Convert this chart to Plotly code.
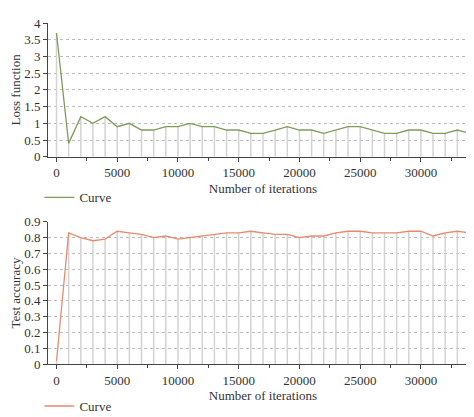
import plotly.graph_objects as go

iterations = [i * 1000 for i in range(35)]
loss = [3.7, 0.4, 1.2, 1.0, 1.2, 0.9, 1.0, 0.8, 0.8, 0.9, 0.9, 1.0, 0.9, 0.9, 0.8, 0.8, 0.7, 0.7,
        0.8, 0.9, 0.8, 0.8, 0.7, 0.8, 0.9, 0.9, 0.8, 0.7, 0.7, 0.8, 0.8, 0.7, 0.7, 0.8, 0.7]
accuracy = [0.02, 0.83, 0.80, 0.78, 0.79, 0.84, 0.83, 0.82, 0.80, 0.81, 0.79, 0.80, 0.81, 0.82,
            0.83, 0.83, 0.84, 0.83, 0.82, 0.82, 0.80, 0.81, 0.81, 0.83, 0.84, 0.84, 0.83, 0.83,
            0.83, 0.84, 0.84, 0.81, 0.83, 0.84, 0.83]
xticks = [0, 5000, 10000, 15000, 20000, 25000, 30000]
xticklabels = [str(v) for v in xticks]

green = "#7d9c5c"
orange = "#e88a6c"
font = dict(family="Liberation Serif", size=13, color="#333")

fig = go.Figure()
for y, col, xa, ya, lg in [(loss, green, "x", "y", "legend"), (accuracy, orange, "x2", "y2", "legend2")]:
    fig.add_trace(go.Scatter(x=iterations, y=y, mode="lines", line=dict(color=col, width=1.3),
                             name="Curve", xaxis=xa, yaxis=ya, legend=lg, showlegend=True,
                             error_y=dict(type="data", symmetric=False, array=[0]*len(y), arrayminus=y,
                                          color="#d3d3d3", thickness=1.5, width=0)))

axcommon = dict(showline=True, linecolor="#444", linewidth=1, ticks="outside", ticklen=4,
                tickcolor="#444", tickfont=font, zeroline=False)
xcommon = dict(axcommon, range=[-700, 34700], tickvals=xticks, ticktext=xticklabels,
               showgrid=False, title=dict(text="Number of iterations", font=font, standoff=4),
               minor=dict(dtick=2500, tick0=0, ticks="outside", ticklen=3, tickcolor="#444"))
ycommon = dict(axcommon, showgrid=True, gridcolor="#bbb", griddash="dot", gridwidth=1)

fig.update_layout(
    width=474, height=417, margin=dict(l=40, r=4, t=15, b=10),
    paper_bgcolor="white", plot_bgcolor="white", font=font,
    xaxis=dict(xcommon, domain=[0, 1], anchor="y"),
    yaxis=dict(ycommon, domain=[0.648, 1], range=[0, 4], dtick=0.5, anchor="x",
               title=dict(text="Loss function", font=font, standoff=4)),
    xaxis2=dict(xcommon, domain=[0, 1], anchor="y2"),
    yaxis2=dict(ycommon, domain=[0.102, 0.477], range=[0, 0.9], dtick=0.1, anchor="x2",
                title=dict(text="Test accuracy", font=font, standoff=4)),
    legend=dict(x=-0.02, y=0.541, xanchor="left", yanchor="middle", font=font, bgcolor="rgba(0,0,0,0)"),
    legend2=dict(x=-0.02, y=-0.008, xanchor="left", yanchor="middle", font=font, bgcolor="rgba(0,0,0,0)"),
)
fig.write_html("out.html")
